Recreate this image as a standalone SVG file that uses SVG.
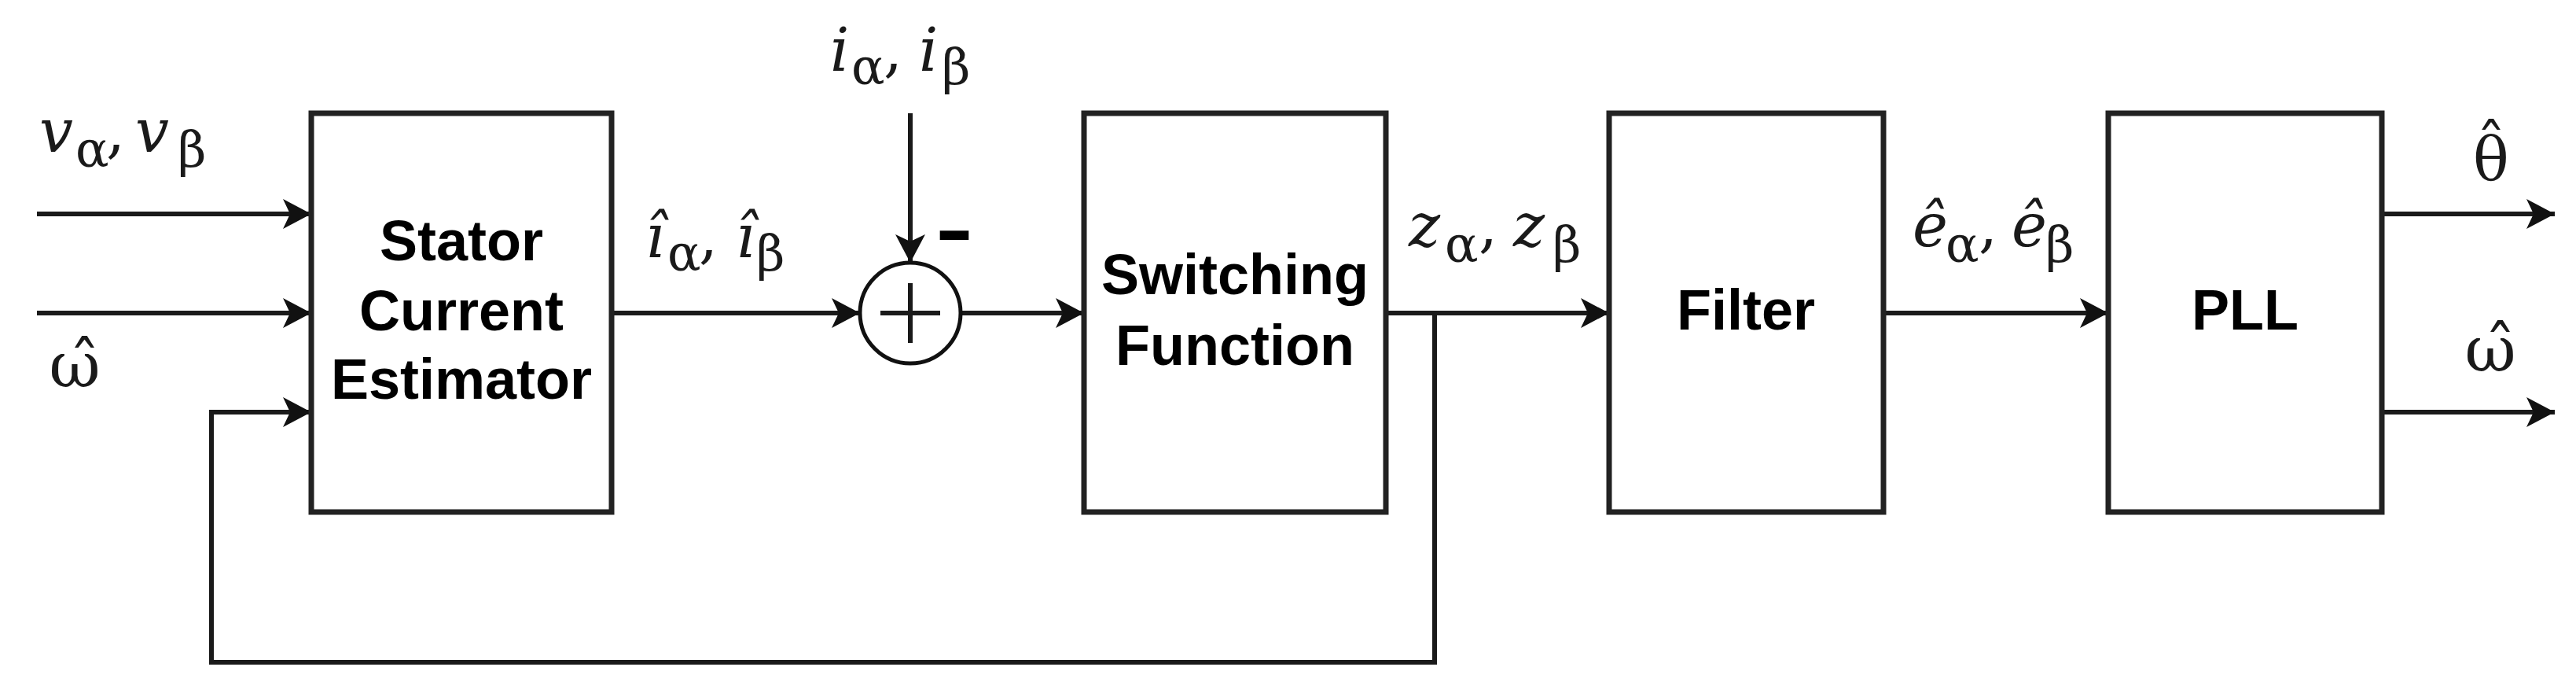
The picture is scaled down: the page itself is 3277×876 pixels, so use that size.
<svg xmlns="http://www.w3.org/2000/svg" width="3277" height="876" viewBox="0 0 3277 876">
<style>
.box{fill:#fff;stroke:#222;stroke-width:7}
.ln{fill:none;stroke:#1a1a1a;stroke-width:6}
.lbl{font-family:"Liberation Sans",Arial,sans-serif;font-weight:bold;font-size:72px;fill:#000;text-anchor:middle}
.m{font-family:"DejaVu Serif","Liberation Serif",serif;font-size:76px;fill:#1a1a1a}
.it{font-style:italic}
.sub{font-size:63px}
.g{font-family:"DejaVu Serif","Liberation Serif",serif;fill:#1a1a1a}
</style>
<defs>
<marker id="arr" markerUnits="userSpaceOnUse" markerWidth="40" markerHeight="40" viewBox="0 -20 40 40" refX="36" refY="0" orient="auto">
<path d="M0,-19 L36,0 L0,19 L9,0 Z" fill="#111"/>
</marker>
</defs>
<rect width="3277" height="876" fill="#fff"/>
<g id="connectors">
<line class="ln" x1="47" y1="272" x2="396" y2="272" marker-end="url(#arr)"/>
<line class="ln" x1="47" y1="398" x2="396" y2="398" marker-end="url(#arr)"/>
<polyline class="ln" points="1825,398 1825,842 269,842 269,524 396,524" marker-end="url(#arr)"/>
<line class="ln" x1="778" y1="398" x2="1094" y2="398" marker-end="url(#arr)"/>
<line class="ln" x1="1158" y1="144" x2="1158" y2="334" marker-end="url(#arr)"/>
<line class="ln" x1="1222" y1="398" x2="1379" y2="398" marker-end="url(#arr)"/>
<line class="ln" x1="1763" y1="398" x2="2047" y2="398" marker-end="url(#arr)"/>
<line class="ln" x1="2396" y1="398" x2="2682" y2="398" marker-end="url(#arr)"/>
<line class="ln" x1="3030" y1="272" x2="3250" y2="272" marker-end="url(#arr)"/>
<line class="ln" x1="3030" y1="524" x2="3250" y2="524" marker-end="url(#arr)"/>
</g>
<g id="stator">
<rect class="box" x="396" y="144" width="382" height="507"/>
<text class="lbl" x="587" y="331">Stator</text>
<text class="lbl" x="587" y="420">Current</text>
<text class="lbl" x="587" y="507">Estimator</text>
</g>
<g id="sum">
<circle cx="1158" cy="398" r="64" fill="#fff" stroke="#111" stroke-width="5"/>
<line class="ln" x1="1120" y1="398" x2="1196" y2="398" stroke-width="4"/>
<line class="ln" x1="1158" y1="360" x2="1158" y2="436" stroke-width="4"/>
<text x="1189" y="339" font-family="Liberation Sans, Arial, sans-serif" font-size="150" fill="#000">-</text>
</g>
<g id="switching">
<rect class="box" x="1379" y="144" width="384" height="507"/>
<text class="lbl" x="1571" y="374">Switching</text>
<text class="lbl" x="1571" y="464">Function</text>
</g>
<g id="filter">
<rect class="box" x="2047" y="144" width="349" height="507"/>
<text class="lbl" x="2221" y="419">Filter</text>
</g>
<g id="pll">
<rect class="box" x="2682" y="144" width="348" height="507"/>
<text class="lbl" x="2856" y="419">PLL</text>
</g>
<g id="labels">
<text class="m" y="193"><tspan class="it" x="50">v</tspan><tspan class="sub" x="96" dy="19">α</tspan><tspan x="135" dy="-19">,</tspan><tspan class="it" x="172">v</tspan><tspan class="sub" x="226" dy="19">β</tspan></text>
<text class="m" y="90"><tspan class="it" x="1056">i</tspan><tspan class="sub" x="1083" dy="17">α</tspan><tspan x="1124" dy="-17">,</tspan><tspan class="it" x="1169">i</tspan><tspan class="sub" x="1198" dy="17">β</tspan></text>
<text class="m" y="327"><tspan class="it" x="821">i&#x302;</tspan><tspan class="sub" x="849" dy="17">α</tspan><tspan x="889" dy="-17">,</tspan><tspan class="it" x="936">i&#x302;</tspan><tspan class="sub" x="962" dy="17">β</tspan></text>
<text class="m" y="313"><tspan class="it" x="1792">z</tspan><tspan class="sub" x="1838" dy="20">α</tspan><tspan x="1881" dy="-20">,</tspan><tspan class="it" x="1925">z</tspan><tspan class="sub" x="1975" dy="20">β</tspan></text>
<text class="m" y="313"><tspan class="it" x="2433">ê</tspan><tspan class="sub" x="2475" dy="20">α</tspan><tspan x="2517" dy="-20">,</tspan><tspan class="it" x="2559">ê</tspan><tspan class="sub" x="2602" dy="20">β</tspan></text>
<text class="g" y="228" font-size="76" text-anchor="middle"><tspan x="3169">θ</tspan><tspan x="3169" dy="-16">ˆ</tspan></text>
<text class="g" x="3168" y="472" font-size="80" text-anchor="middle">ω&#x302;</text>
<text class="g" x="95" y="492" font-size="80" text-anchor="middle">ω&#x302;</text>
</g>
</svg>
